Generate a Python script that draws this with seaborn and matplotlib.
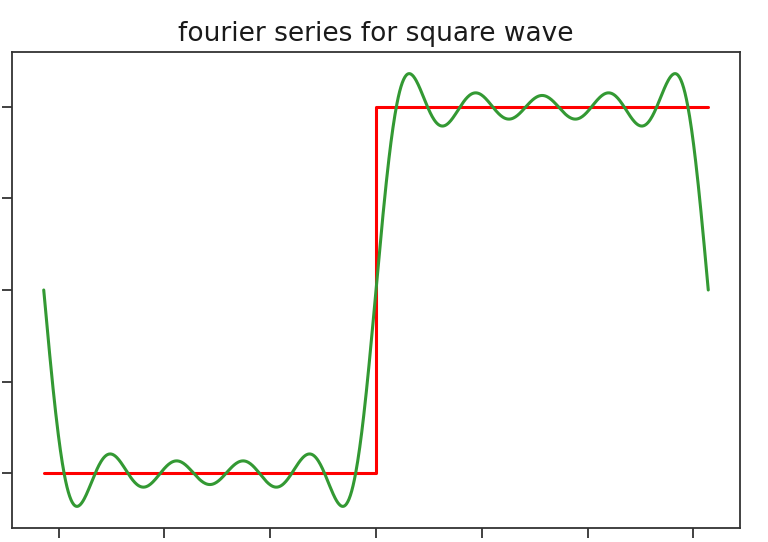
import numpy as np
import pandas as pd
import seaborn as sns
import matplotlib
matplotlib.use('Agg')
import matplotlib.pyplot as plt

# square wave on [-pi, pi]
square_x = [-np.pi, 0.0, 0.0, np.pi]
square_y = [-1.0, -1.0, 1.0, 1.0]

# odd harmonics used in the partial sum and their coefficients (4 / (pi * k))
harmonics = [1, 3, 5, 7, 9]
amplitudes = [1.2732, 0.4244, 0.2546, 0.1819, 0.1415]

x = np.linspace(-np.pi, np.pi, 1000)
y = np.zeros_like(x)
for k, a in zip(harmonics, amplitudes):
    y += a * np.sin(k * x)

df_square = pd.DataFrame({'x': square_x, 'y': square_y})
df_fourier = pd.DataFrame({'x': x, 'y': y})

sns.set_style('ticks')
fig = plt.figure(figsize=(7.68, 5.42), dpi=100)
ax = fig.add_axes([12 / 768, 1 - 528 / 542, 728 / 768, 476 / 542])

sns.lineplot(data=df_square, x='x', y='y', color='red', linewidth=2.2,
             estimator=None, sort=False, ax=ax)
sns.lineplot(data=df_fourier, x='x', y='y', color='#339933', linewidth=2.2,
             estimator=None, sort=False, ax=ax)

ax.set_xlim(-np.pi - 0.30, np.pi + 0.30)
ax.set_xticks([-3, -2, -1, 0, 1, 2, 3])
ax.set_yticks([-1, -0.5, 0, 0.5, 1])
ax.set_xticklabels([])
ax.set_yticklabels([])
ax.set_xlabel('')
ax.set_ylabel('')
ax.tick_params(length=7, width=1.3, color='#333333')
for s in ax.spines.values():
    s.set_linewidth(1.3)
    s.set_color('#333333')
ax.set_title('fourier series for square wave', fontsize=19, pad=8, color='#1a1a1a')

fig.savefig('out.png', dpi=100)
